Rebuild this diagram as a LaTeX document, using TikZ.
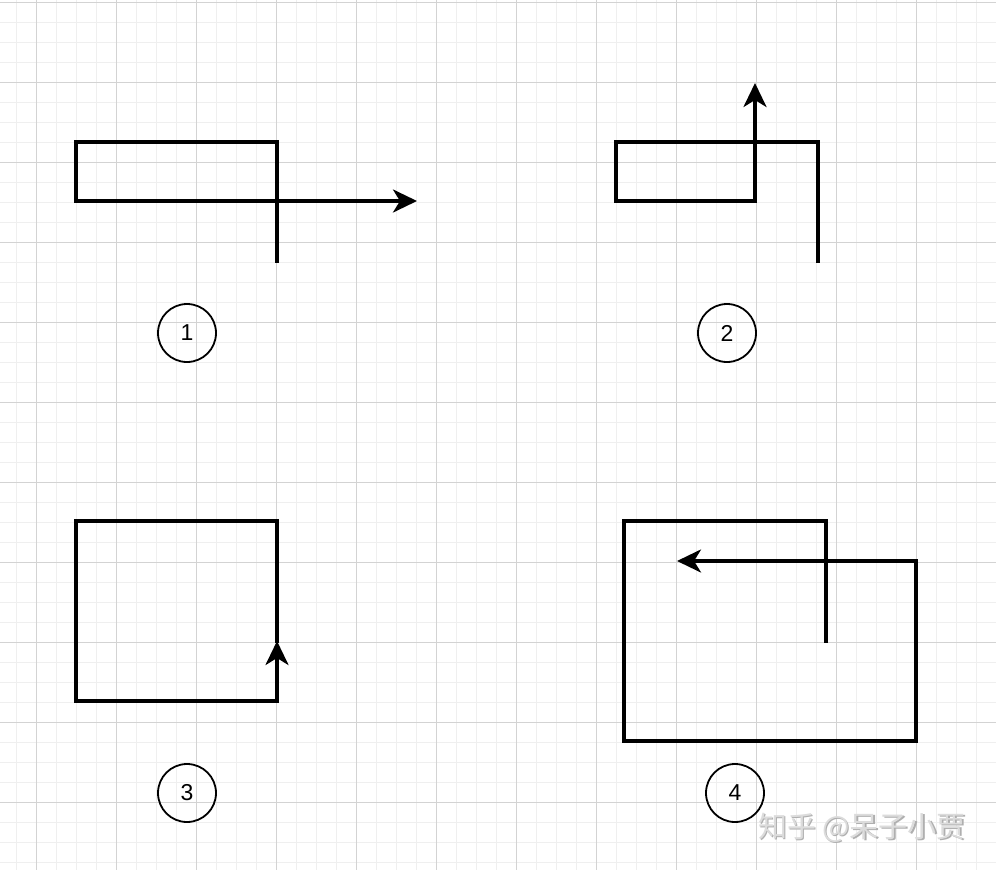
\documentclass[tikz,border=0pt]{standalone}
\usepackage{fontspec}
\setmainfont{Liberation Sans}
\newfontfamily\cjk{Noto Sans CJK SC}
\usetikzlibrary{arrows.meta}
\definecolor{minorgrid}{HTML}{EFEFEF}
\definecolor{majorgrid}{HTML}{D3D3D3}
\definecolor{wmfill}{HTML}{DCDCDC}
\definecolor{wmshadow}{HTML}{AFAFAF}
\tikzset{
  shapeline/.style={line width=3.5pt, line cap=rect, line join=miter, black},
  arrowline/.style={line width=3.5pt, black, -{Stealth[length=24pt, width=23pt, inset=7pt]}},
  numcircle/.style={circle, draw=black, line width=1.8pt, minimum size=58pt, inner sep=0pt, font=\fontsize{23}{23}\selectfont},
  watermark/.style={font=\cjk\fontsize{29}{29}\selectfont, inner sep=0pt}
}
\begin{document}
\begin{tikzpicture}[x=1pt, y=-1pt]
\useasboundingbox (0,0) rectangle (996,870);
\fill[white] (0,0) rectangle (996,870);
% grid
\foreach \gx in {16,36,...,996} \draw[minorgrid, line width=1pt] (\gx,0) -- (\gx,870);
\foreach \gy in {2,22,...,870} \draw[minorgrid, line width=1pt] (0,\gy) -- (996,\gy);
\foreach \gx in {36,116,...,996} \draw[majorgrid, line width=1pt] (\gx,0) -- (\gx,870);
\foreach \gy in {2,82,...,870} \draw[majorgrid, line width=1pt] (0,\gy) -- (996,\gy);

% ---- panel 1
\coordinate (a1) at (76,142);
\coordinate (b1) at (277,142);
\coordinate (c1) at (76,201);
\coordinate (d1) at (277,261);
\coordinate (e1) at (417,201);
\draw[shapeline] (d1) -- (b1) -- (a1) -- (c1);
\draw[arrowline] (c1) -- (e1);
\node[numcircle] (n1) at (187,333) {1};

% ---- panel 2
\coordinate (a2) at (616,142);
\coordinate (b2) at (818,142);
\coordinate (c2) at (616,201);
\coordinate (f2) at (755,201);
\coordinate (d2) at (818,261);
\coordinate (e2) at (755,83);
\draw[shapeline] (d2) -- (b2) -- (a2) -- (c2) -- (f2);
\draw[arrowline] (f2) -- (e2);
\node[numcircle] (n2) at (727,333) {2};

% ---- panel 3
\coordinate (a3) at (76,521);
\coordinate (b3) at (277,521);
\coordinate (c3) at (76,701);
\coordinate (f3) at (277,701);
\coordinate (g3) at (277,641);
\draw[shapeline] (g3) -- (b3) -- (a3) -- (c3) -- (f3);
\draw[arrowline] (f3) -- (g3);
\node[numcircle] (n3) at (187,793) {3};

% ---- panel 4
\coordinate (a4) at (624,521);
\coordinate (b4) at (826,521);
\coordinate (g4) at (826,641);
\coordinate (c4) at (624,741);
\coordinate (h4) at (916,741);
\coordinate (i4) at (916,561);
\coordinate (e4) at (677,561);
\draw[shapeline] (g4) -- (b4) -- (a4) -- (c4) -- (h4) -- (i4);
\draw[arrowline] (i4) -- (e4);
\node[numcircle] (n4) at (735,793) {4};

% watermark
\node[watermark, text=wmshadow] (wms) at (863.2,829.2) {知乎 @呆子小贾};
\node[watermark, text=wmfill] (wm) at (862,828) {知乎 @呆子小贾};
\end{tikzpicture}
\end{document}
